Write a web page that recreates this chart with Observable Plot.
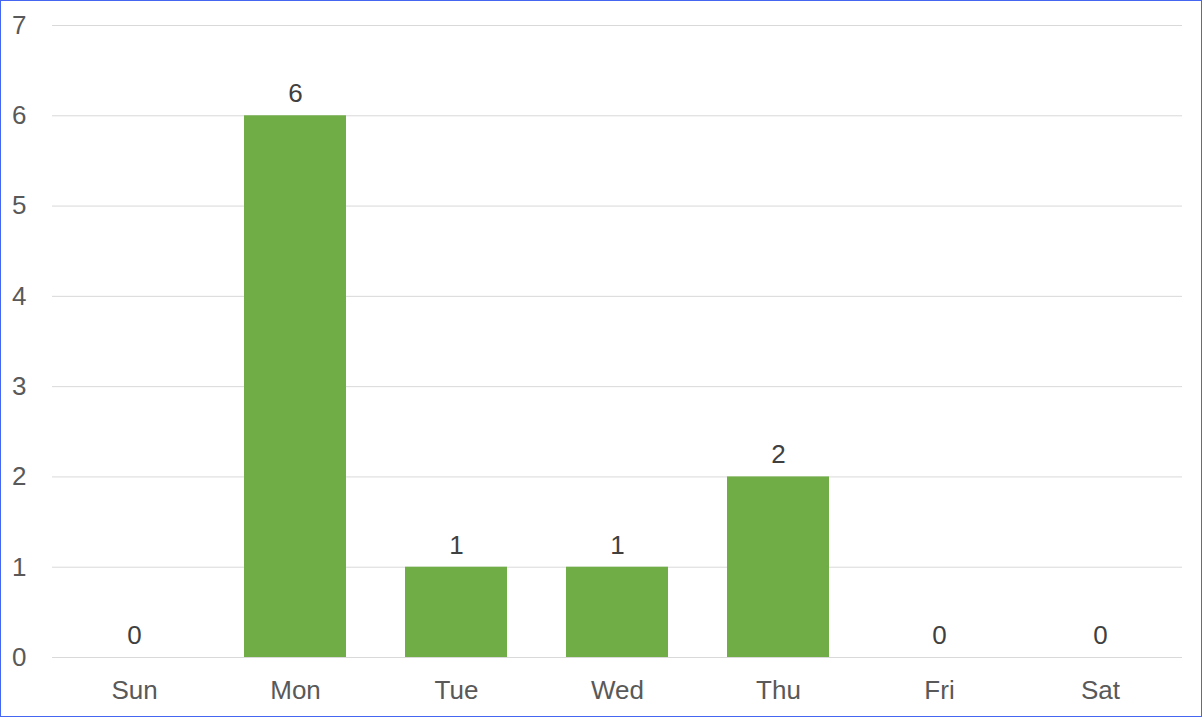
<!DOCTYPE html>
<html>
<head>
<meta charset="utf-8">
<script src="https://cdn.jsdelivr.net/npm/d3@7"></script>
<script src="https://cdn.jsdelivr.net/npm/@observablehq/plot@0.6"></script>
<style>
  html, body { margin: 0; padding: 0; background: #fff; }
  #chart { position: relative; width: 1202px; height: 717px; }
  #chart svg { display: block; }
  #border { position: absolute; left: 0; top: 0; width: 1202px; height: 717px; box-sizing: border-box; border: 1.5px solid #4466f0; pointer-events: none; }
</style>
</head>
<body>
<div id="chart"><div id="border"></div></div>
<script>
const days = ["Sun", "Mon", "Tue", "Wed", "Thu", "Fri", "Sat"];
const counts = [0, 6, 1, 1, 2, 0, 0];
const yTicks = [0, 1, 2, 3, 4, 5, 6, 7];

const data = days.map((d, i) => ({day: d, count: counts[i]}));

const plot = Plot.plot({
  width: 1202,
  height: 717,
  marginLeft: 52,
  marginRight: 20,
  marginTop: 25,
  marginBottom: 60,
  style: {fontFamily: "Liberation Sans, Arial, sans-serif", fontSize: "26px", background: "transparent"},
  x: {domain: days, paddingInner: 0.368, paddingOuter: 0.184, label: null},
  y: {domain: [0, 7], label: null},
  marks: [
    Plot.gridY(yTicks, {stroke: "#d9d9d9", strokeOpacity: 1, strokeWidth: 1}),
    Plot.barY(data, {x: "day", y: "count", fill: "#70ad47"}),
    Plot.text(data, {x: "day", y: "count", text: d => String(d.count), dy: -22, fill: "#404040", fontSize: 26}),
    Plot.axisY(yTicks, {tickSize: 0, tickPadding: 26, fill: "#595959", fontSize: 26, tickFormat: d3.format("d"), label: null}),
    Plot.axisX({tickSize: 0, tickPadding: 23, fill: "#595959", fontSize: 26, label: null})
  ]
});
document.getElementById("chart").prepend(plot);
</script>
</body>
</html>
